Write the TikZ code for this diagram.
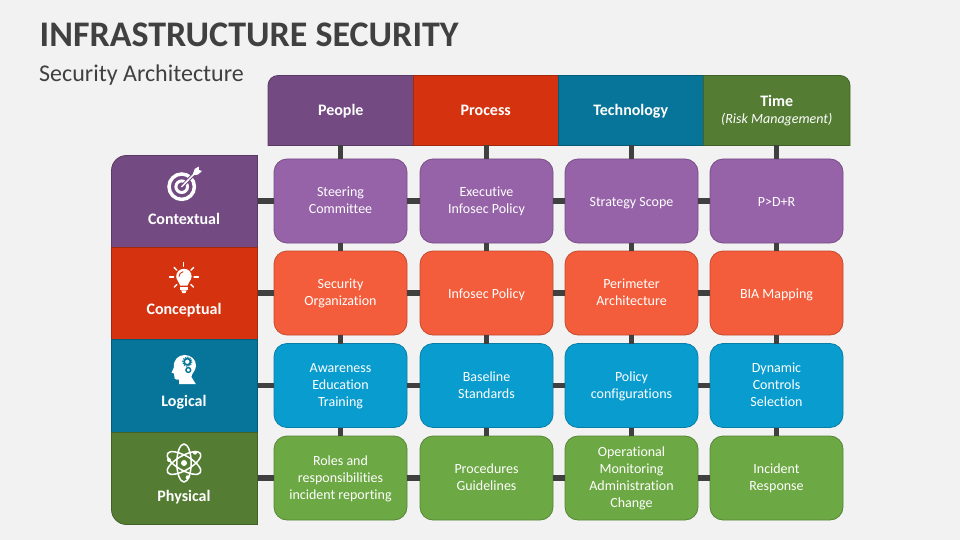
\documentclass[tikz,border=0pt]{standalone}
\usepackage{fontspec}
\setmainfont{Carlito}[Ligatures=NoCommon]
\definecolor{pageBg}{HTML}{F2F2F2}
\definecolor{inkDark}{HTML}{404040}
\definecolor{headPurple}{HTML}{734A82}
\definecolor{headRed}{HTML}{D5330F}
\definecolor{headTeal}{HTML}{077599}
\definecolor{headGreen}{HTML}{547D33}
\definecolor{cardPurple}{HTML}{9662A8}
\definecolor{cardOrange}{HTML}{F45D3B}
\definecolor{cardBlue}{HTML}{099DCF}
\definecolor{cardGreen}{HTML}{6CA843}
\newcommand{\labelstrut}{\rule[-4.5pt]{0pt}{20.6pt}}
\newcommand{\toplinestrut}{\rule{0pt}{13.4pt}}
\tikzset{
  titletext/.style={anchor=west,text=inkDark},
  headcell/.style={minimum width=145pt,minimum height=70pt,inner sep=0pt,outer sep=0pt},
  rowcell/.style={minimum width=146pt,minimum height=92pt,inner sep=0pt,outer sep=0pt},
  headline/.style={line width=0.8pt,draw=#1!78!black,fill=#1},
  headtext/.style={text=white,align=center,font=\fontsize{16}{17.5}\selectfont\bfseries,
    execute at begin node=\labelstrut,execute at end node=\labelstrut},
  cardbox/.style={draw=#1!80!black,fill=#1,line width=0.8pt,rounded corners=13pt,
    minimum width=133pt,minimum height=84pt,inner sep=0pt,outer sep=0pt,
    text=white,align=center,font=\fontsize{14}{17}\selectfont,
    execute at begin node=\labelstrut,execute at end node=\labelstrut},
  link/.style={draw=inkDark,line width=5.3pt},
  iconline/.style={draw=white,line width=1.5pt,line cap=round}
}
\begin{document}
\begin{tikzpicture}[x=1pt,y=-1pt]
  \useasboundingbox[fill=pageBg] (0,0) rectangle (960,540);
  % titles
  \node[titletext,font=\fontsize{36}{36}\selectfont\bfseries,inner sep=0pt] (title) at (39.5,35) {INFRASTRUCTURE SECURITY};
  \node[titletext,font=\fontsize{24}{24}\selectfont,inner sep=0pt] (subtitle) at (39,75.5) {Security Architecture};

  % top header cells
  \draw[headline=headPurple] (268,145.5) [rounded corners=10pt] -- (268,75.5) [sharp corners] -- (413.5,75.5) -- (413.5,145.5) -- cycle;
  \draw[headline=headRed] (413.5,75.5) rectangle (558,145.5);
  \draw[headline=headTeal] (558,75.5) rectangle (703.5,145.5);
  \draw[headline=headGreen] (703.5,145.5) -- (703.5,75.5) [rounded corners=10pt] -- (850,75.5) [sharp corners] -- (850,145.5) -- cycle;
  \node[headcell,headtext] (hdrPeople) at (340.75,110) {People};
  \node[headcell,headtext] (hdrProcess) at (485.75,110) {Process};
  \node[headcell,headtext] (hdrTechnology) at (630.75,110) {Technology};
  \node[headcell,headtext] (hdrTime) at (776.75,110.5) {\toplinestrut Time\\[-0.5pt]{\fontsize{14}{17}\selectfont\mdseries\itshape (Risk Management)}};

  % left header cells
  \draw[headline=headPurple] (111.5,247.5) [rounded corners=15pt] -- (111.5,155.5) [sharp corners] -- (257.5,155.5) -- (257.5,247.5) -- cycle;
  \draw[headline=headRed] (111.5,247.5) rectangle (257.5,339.5);
  \draw[headline=headTeal] (111.5,339.5) rectangle (257.5,432.5);
  \draw[headline=headGreen] (257.5,432.5) -- (111.5,432.5) [rounded corners=15pt] -- (111.5,524.5) [sharp corners] -- (257.5,524.5) -- cycle;
  \node[rowcell] (rowContextual) at (184.5,201.5) {};
  \node[rowcell] (rowConceptual) at (184.5,293.5) {};
  \node[rowcell] (rowLogical) at (184.5,386) {};
  \node[rowcell] (rowPhysical) at (184.5,478.5) {};
  \node[headtext] (lblContextual) at (184,218.5) {Contextual};
  \node[headtext] (lblConceptual) at (184,308.5) {Conceptual};
  \node[headtext] (lblLogical) at (184,400.5) {Logical};
  \node[headtext] (lblPhysical) at (184,495.5) {Physical};

  % target icon
  \draw[draw=white,line width=3.5pt] (181.7,186.7) circle (12.7);
  \draw[draw=white,line width=3pt] (181.7,186.7) circle (5.8);
  \draw[draw=headPurple,line width=3.6pt] (183,185.4) -- (194,174);
  \draw[iconline] (181.7,186.7) -- (195,173);
  \fill[white] (193,173.5) -- (194.8,168.8) -- (199,166.5) -- (198.8,170) -- (202,171) -- (198,174.5) -- (194.5,175.2) -- cycle;

  % bulb icon
  \fill[white] (184,268.8) .. controls (188.8,268.8) and (191.6,272.5) .. (191.6,276.5) .. controls (191.6,280.5) and (188,282) .. (187.6,285.5)
    -- (180.2,285.5) .. controls (179.8,282) and (176.2,280.5) .. (176.2,276.5) .. controls (176.2,272.5) and (179.2,268.8) .. (184,268.8) -- cycle;
  \fill[white] (180.2,286.8) rectangle (187.6,289.6);
  \fill[white] (181.2,290.4) -- (186.6,290.4) -- (185.4,293) -- (182.4,293) -- cycle;
  \draw[draw=headRed,line width=0.9pt,line cap=round] (179,276.5) .. controls (179,274) and (180.5,272.3) .. (183,271.8);
  \draw[iconline] (183.7,262.6) -- (183.7,266.2);
  \draw[iconline] (169.6,277) -- (173.6,277);
  \draw[iconline] (194,277) -- (198.4,277);
  \draw[iconline] (174.2,267.5) -- (176.8,270.2);
  \draw[iconline] (193.6,267.5) -- (191,270.2);
  \draw[iconline] (174.4,287) -- (176.8,284.6);
  \draw[iconline] (193.4,287) -- (191,284.6);

  % head icon
  \fill[white] (179,384) -- (179,379.6) -- (176.5,379.6) .. controls (174.6,379.6) and (174.2,378) .. (174.4,376.5) -- (174,373.6) -- (171.6,372.6) -- (173.8,367.6)
    .. controls (173.2,359.5) and (178.5,355) .. (184.8,355) .. controls (191.4,355) and (196,360) .. (196,365.6) .. controls (196,371) and (191.6,373) .. (191.4,377) -- (195.8,384) -- cycle;
  \draw[draw=headTeal,line width=1.7pt] (187.3,361.7) circle (3.2);
  \draw[draw=headTeal,line width=1pt,dash pattern=on 1.2pt off 1.2pt] (187.3,361.7) circle (4.7);
  \draw[draw=headTeal,line width=1.4pt] (188.3,370) circle (2.4);

  % atom icon
  \draw[draw=white,line width=1.5pt,rotate around={30:(184,463)}] (184,463) ellipse (19 and 7.2);
  \draw[draw=white,line width=1.5pt,rotate around={150:(184,463)}] (184,463) ellipse (19 and 7.2);
  \draw[draw=white,line width=1.5pt,rotate around={90:(184,463)}] (184,463) ellipse (19 and 7.2);
  \fill[white] (184,463) circle (3);
  \fill[white] (195,452.7) circle (2);
  \fill[white] (169,460) circle (2);
  \fill[white] (187.7,477.3) circle (2);

  % first row of cards
  \node[cardbox=cardPurple] (cardSteering) at (340.5,201) {\toplinestrut Steering\\Committee};
  \node[cardbox=cardPurple] (cardExecutive) at (486.5,201) {\toplinestrut Executive\\Infosec Policy};
  \node[cardbox=cardPurple] (cardStrategy) at (631.5,201) {Strategy Scope};
  \node[cardbox=cardPurple] (cardPdr) at (776.5,201) {P>D+R};
  % second row of cards
  \node[cardbox=cardOrange] (cardOrganization) at (340.5,293) {\toplinestrut Security\\Organization};
  \node[cardbox=cardOrange] (cardInfosec) at (486.5,293) {Infosec Policy};
  \node[cardbox=cardOrange] (cardPerimeter) at (631.5,293) {\toplinestrut Perimeter\\Architecture};
  \node[cardbox=cardOrange] (cardBia) at (776.5,293) {BIA Mapping};
  % third row of cards
  \node[cardbox=cardBlue] (cardAwareness) at (340.5,385.5) {\toplinestrut Awareness\\Education\\Training};
  \node[cardbox=cardBlue] (cardBaseline) at (486.5,385.5) {\toplinestrut Baseline\\Standards};
  \node[cardbox=cardBlue] (cardConfig) at (631.5,385.5) {\toplinestrut Policy\\configurations};
  \node[cardbox=cardBlue] (cardDynamic) at (776.5,385.5) {\toplinestrut Dynamic\\Controls\\Selection};
  % fourth row of cards
  \node[cardbox=cardGreen] (cardRoles) at (340.5,478) {\toplinestrut Roles and\\responsibilities\\incident reporting};
  \node[cardbox=cardGreen] (cardProcedures) at (486.5,478) {\toplinestrut Procedures\\Guidelines};
  \node[cardbox=cardGreen] (cardOperational) at (631.5,478) {\toplinestrut Operational\\Monitoring\\Administration\\Change};
  \node[cardbox=cardGreen] (cardIncident) at (776.5,478) {\toplinestrut Incident\\Response};

  % row links
  \draw[link] (rowContextual.east |- cardSteering.west) -- (cardSteering.west);
  \draw[link] (cardSteering.east) -- (cardExecutive.west);
  \draw[link] (cardExecutive.east) -- (cardStrategy.west);
  \draw[link] (cardStrategy.east) -- (cardPdr.west);
  \draw[link] (rowConceptual.east |- cardOrganization.west) -- (cardOrganization.west);
  \draw[link] (cardOrganization.east) -- (cardInfosec.west);
  \draw[link] (cardInfosec.east) -- (cardPerimeter.west);
  \draw[link] (cardPerimeter.east) -- (cardBia.west);
  \draw[link] (rowLogical.east |- cardAwareness.west) -- (cardAwareness.west);
  \draw[link] (cardAwareness.east) -- (cardBaseline.west);
  \draw[link] (cardBaseline.east) -- (cardConfig.west);
  \draw[link] (cardConfig.east) -- (cardDynamic.west);
  \draw[link] (rowPhysical.east |- cardRoles.west) -- (cardRoles.west);
  \draw[link] (cardRoles.east) -- (cardProcedures.west);
  \draw[link] (cardProcedures.east) -- (cardOperational.west);
  \draw[link] (cardOperational.east) -- (cardIncident.west);

  % column links
  \draw[link] (cardSteering.north |- hdrPeople.south) -- (cardSteering.north);
  \draw[link] (cardSteering.south) -- (cardOrganization.north);
  \draw[link] (cardOrganization.south) -- (cardAwareness.north);
  \draw[link] (cardAwareness.south) -- (cardRoles.north);
  \draw[link] (cardExecutive.north |- hdrProcess.south) -- (cardExecutive.north);
  \draw[link] (cardExecutive.south) -- (cardInfosec.north);
  \draw[link] (cardInfosec.south) -- (cardBaseline.north);
  \draw[link] (cardBaseline.south) -- (cardProcedures.north);
  \draw[link] (cardStrategy.north |- hdrTechnology.south) -- (cardStrategy.north);
  \draw[link] (cardStrategy.south) -- (cardPerimeter.north);
  \draw[link] (cardPerimeter.south) -- (cardConfig.north);
  \draw[link] (cardConfig.south) -- (cardOperational.north);
  \draw[link] (cardPdr.north |- hdrTime.south) -- (cardPdr.north);
  \draw[link] (cardPdr.south) -- (cardBia.north);
  \draw[link] (cardBia.south) -- (cardDynamic.north);
  \draw[link] (cardDynamic.south) -- (cardIncident.north);
\end{tikzpicture}
\end{document}
